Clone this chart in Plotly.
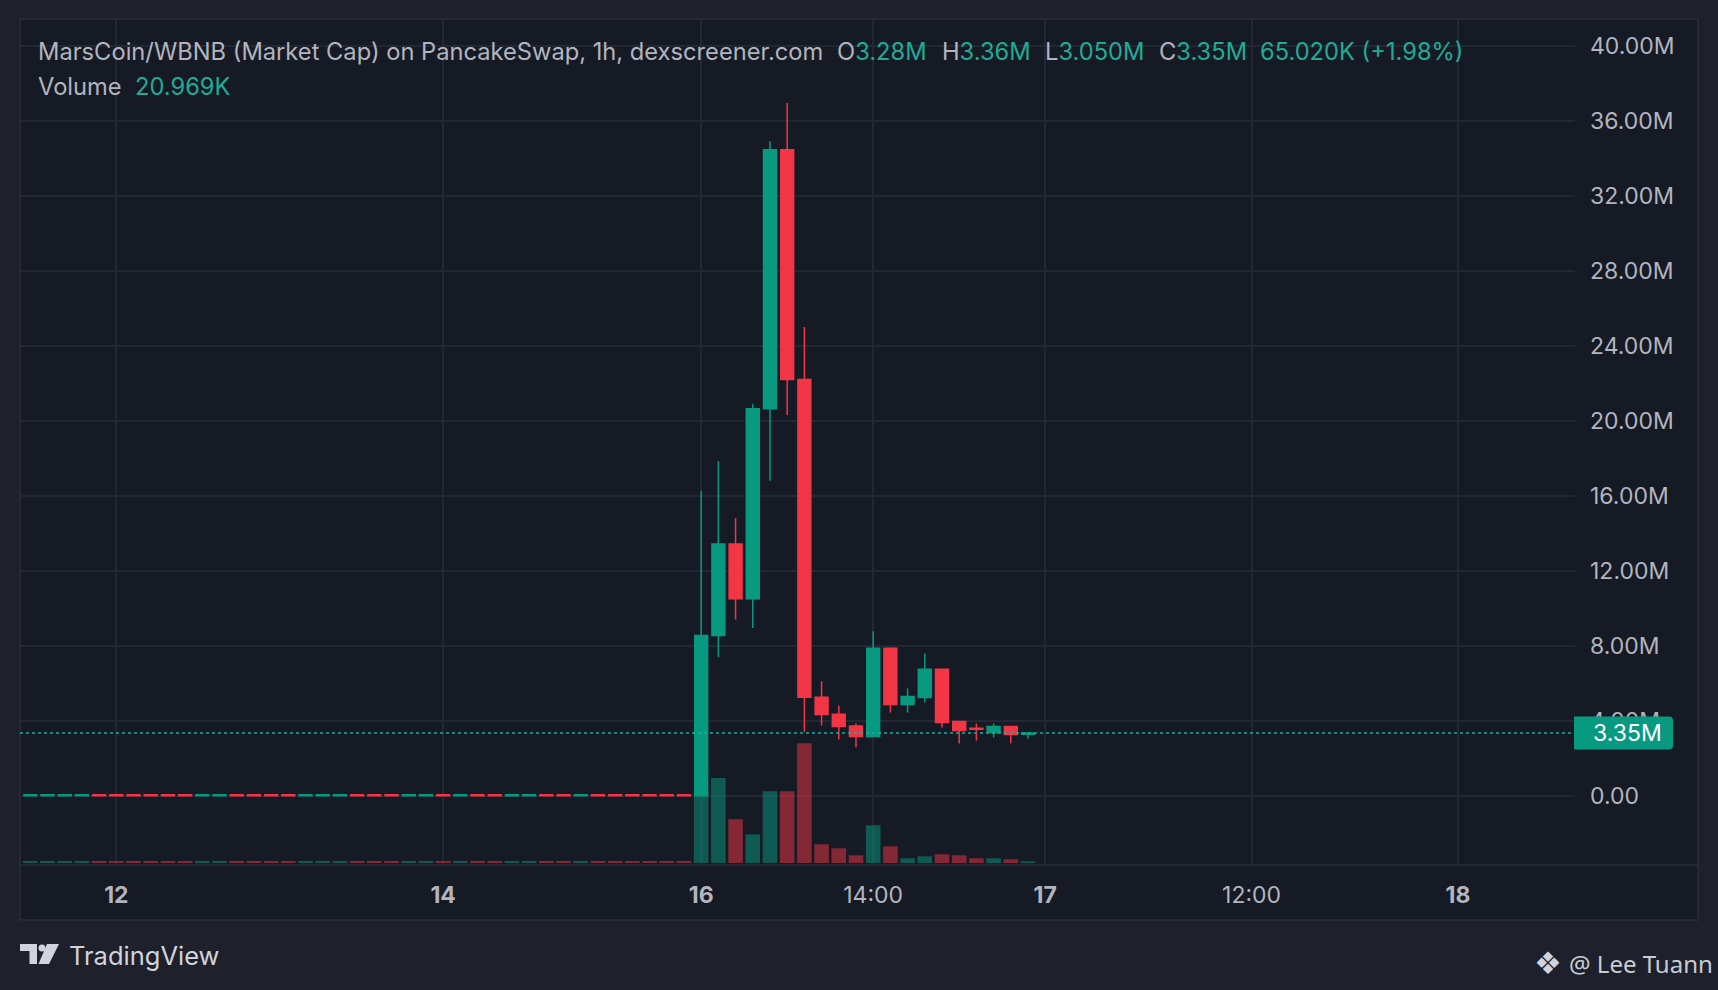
import plotly.graph_objects as go

# ---------------- data ----------------
# bar index (hourly bars, index 0 = first bar of the 16th)
bar_index = list(range(-39, 20))

# flat bars before the 16th (market cap ~0), values in millions
flat_open = [0, 0, 0, 0, 0.05, 0.05, 0.05, 0.05, 0.05, 0.05, 0, 0, 0.05, 0.05, 0.05, 0.05,
             0, 0, 0, 0.05, 0.05, 0.05, 0, 0, 0.05, 0, 0.05, 0.05, 0, 0, 0.05, 0.05, 0,
             0.05, 0.05, 0.05, 0.05, 0.05, 0.05]
flat_close = [0.05, 0.05, 0.05, 0.05, 0, 0, 0, 0, 0, 0, 0.05, 0.05, 0, 0, 0, 0,
              0.05, 0.05, 0.05, 0, 0, 0, 0.05, 0.05, 0, 0.05, 0, 0, 0.05, 0.05, 0, 0, 0.05,
              0, 0, 0, 0, 0, 0]
flat_volume_k = [25, 25, 25, 25, 25, 25, 25, 25, 25, 25, 25, 25, 25, 25, 25, 25, 25, 25, 25, 25,
                 25, 25, 25, 25, 25, 25, 25, 25, 25, 25, 25, 25, 25, 25, 25, 25, 25, 25, 25]

# active bars (millions)
live_open = [0.0, 8.55, 13.42, 10.5, 20.64, 34.45, 22.2, 5.25, 4.35, 3.72,
             3.16, 7.86, 4.87, 5.24, 6.74, 3.96, 3.6, 3.37, 3.69, 3.28]
live_high = [16.25, 17.85, 14.8, 20.9, 34.9, 36.95, 25.0, 6.1, 4.8, 3.85,
             8.77, 7.92, 5.72, 7.59, 6.76, 3.98, 3.85, 3.85, 3.72, 3.36]
live_low = [0.0, 7.4, 9.4, 8.95, 16.8, 20.3, 3.4, 3.75, 3.0, 2.58,
            3.16, 4.44, 4.44, 4.97, 3.64, 2.78, 2.94, 3.1, 2.78, 3.05]
live_close = [8.55, 13.42, 10.5, 20.64, 34.45, 22.2, 5.25, 4.33, 3.69, 3.16,
              7.86, 4.87, 5.29, 6.74, 3.9, 3.48, 3.55, 3.69, 3.26, 3.35]
live_volume_k = [900, 1046, 538, 353, 882, 882, 1472, 230, 181, 95,
                 464, 205, 58, 82, 107, 95, 58, 58, 46, 20.969]

opens = flat_open + live_open
closes = flat_close + live_close
highs = [max(o, c) for o, c in zip(flat_open, flat_close)] + live_high
lows = [min(o, c) for o, c in zip(flat_open, flat_close)] + live_low
volumes_k = flat_volume_k + live_volume_k

price_ticks = [0, 4, 8, 12, 16, 20, 24, 28, 32, 36, 40]
price_tick_text = ["0.00", "4.00M", "8.00M", "12.00M", "16.00M", "20.00M",
                   "24.00M", "28.00M", "32.00M", "36.00M", "40.00M"]
time_ticks = [-34, -15, 0, 10, 20, 32, 44]
time_tick_text = ["<b>12</b>", "<b>14</b>", "<b>16</b>", "14:00", "<b>17</b>", "12:00", "<b>18</b>"]

title_text = "MarsCoin/WBNB (Market Cap) on PancakeSwap, 1h, dexscreener.com"
ohlc_labels = ["O", "H", "L", "C"]
ohlc_values = ["3.28M", "3.36M", "3.050M", "3.35M"]
change_text = "65.020K (+1.98%)"
volume_label = "Volume"
volume_value = "20.969K"

# ---------------- style ----------------
W, H = 1718, 990
PL, PR, PT, PB = 20, 1575, 20, 865          # plot area in pixels
PANEL_R, PANEL_B = 1698, 920
PX_PER_M = 18.75
ZERO_Y = 795.7
VOL_K_PER_PX = 12.3

GREEN = "#089981"
RED = "#f23645"
GREEN_V = "rgba(8,153,129,0.5)"
RED_V = "rgba(242,54,69,0.5)"
TEXT = "#b2b5be"
TEAL_TXT = "#22ab94"
GRID = "#232733"
BORDER = "#2a2e39"
OUTER = "#1e212b"
INNER = "#161a25"
FONT = "Inter"


def fx(px):
    return (px - PL) / (PR - PL)


def fy(py):
    return (PB - py) / (PB - PT)


y2_top = (ZERO_Y - PT) / PX_PER_M
y2_bot = (ZERO_Y - PB) / PX_PER_M

vol_colors = [GREEN_V if c >= o else RED_V for o, c in zip(opens, closes)]

fig = go.Figure()
fig.add_trace(go.Bar(
    x=bar_index, y=volumes_k, marker=dict(color=vol_colors, line=dict(width=0)),
    yaxis="y", xaxis="x", showlegend=False, hoverinfo="skip"))
fig.add_trace(go.Candlestick(
    x=bar_index, open=opens, high=highs, low=lows, close=closes,
    yaxis="y2", xaxis="x", showlegend=False, whiskerwidth=0,
    increasing=dict(line=dict(color=GREEN, width=1.5), fillcolor=GREEN),
    decreasing=dict(line=dict(color=RED, width=1.5), fillcolor=RED)))

shapes = [
    dict(type="rect", xref="paper", yref="paper", x0=fx(PL), x1=fx(PANEL_R),
         y0=fy(PANEL_B), y1=fy(19), fillcolor=INNER, line=dict(color=BORDER, width=1.5),
         layer="below"),
    dict(type="line", xref="paper", yref="paper", x0=fx(PL), x1=fx(PANEL_R),
         y0=fy(PB), y1=fy(PB), line=dict(color=BORDER, width=1.5), layer="above"),
    # last price dotted line
    dict(type="line", xref="paper", yref="y2", x0=0, x1=1, y0=closes[-1], y1=closes[-1],
         line=dict(color=TEAL_TXT, width=1.5, dash="dot"), layer="above"),
    # last price label box
    dict(type="path", xref="paper", yref="y2", xsizemode="pixel", ysizemode="pixel",
         xanchor=1, yanchor=closes[-1],
         path="M -1,-16.5 L 94,-16.5 Q 98,-16.5 98,-12.5 L 98,12.5 Q 98,16.5 94,16.5 L -1,16.5 Z",
         fillcolor=GREEN, line=dict(width=0), layer="above"),
    # TradingView logo
    dict(type="rect", xref="paper", yref="paper", x0=fx(20), x1=fx(37), y0=fy(951), y1=fy(944),
         fillcolor="#d1d4dc", line=dict(width=0), layer="above"),
    dict(type="rect", xref="paper", yref="paper", x0=fx(29.5), x1=fx(37), y0=fy(964), y1=fy(944),
         fillcolor="#d1d4dc", line=dict(width=0), layer="above"),
    dict(type="circle", xref="paper", yref="paper", x0=fx(38.5), x1=fx(45.5), y0=fy(951.5), y1=fy(944.5),
         fillcolor="#d1d4dc", line=dict(width=0), layer="above"),
    dict(type="path", xref="paper", yref="paper",
         path=f"M {fx(47)},{fy(944)} L {fx(59)},{fy(944)} L {fx(49)},{fy(964)} L {fx(38.5)},{fy(964)} Z",
         fillcolor="#d1d4dc", line=dict(width=0), layer="above"),
]

ann = []


def add_text(px, py, text, size=23.7, color=TEXT, family=FONT, xanchor="left"):
    ann.append(dict(xref="paper", yref="paper", x=fx(px), y=fy(py), text=text,
                    showarrow=False, xanchor=xanchor, yanchor="middle",
                    font=dict(family=family, size=size, color=color)))


add_text(36, 52, title_text)
for lbl, val, px in zip(ohlc_labels, ohlc_values, [835, 940, 1043, 1157]):
    add_text(px, 52, f"{lbl}<span style='color:{TEAL_TXT}'>{val}</span>")
add_text(1258, 52, change_text, color=TEAL_TXT)
add_text(36, 86, volume_label)
add_text(133, 86, volume_value, color=TEAL_TXT)
add_text(67, 955, "TradingView", size=25.5, color="#d1d4dc")
add_text(1548, 963, "❖", size=31, color="#d1d4dc", family="DejaVu Sans", xanchor="center")
add_text(1567, 963, "@ Lee Tuann", size=24, color="#c8ccd4", family="Noto Sans")

ann.append(dict(xref="paper", yref="y2", x=1, y=closes[-1], xshift=16,
                text=f"{closes[-1]:.2f}M", showarrow=False, xanchor="left", yanchor="middle",
                font=dict(family=FONT, size=23, color="#ffffff")))

fig.update_layout(
    width=W, height=H,
    margin=dict(l=PL, r=W - PR, t=PT, b=H - PB, pad=0),
    paper_bgcolor=OUTER, plot_bgcolor=INNER,
    font=dict(family=FONT, color=TEXT, size=23),
    showlegend=False, bargap=0.15, boxgap=0.25, boxgroupgap=0,
    xaxis=dict(range=[-39.6, 50.8], tickvals=time_ticks, ticktext=time_tick_text,
               showgrid=True, gridcolor=GRID, gridwidth=1.5, zeroline=False, showline=False,
               ticks="", ticklabelstandoff=14, tickfont=dict(size=23, color=TEXT),
               rangeslider=dict(visible=False), fixedrange=True),
    yaxis=dict(range=[-2 * VOL_K_PER_PX, (PB - PT - 2) * VOL_K_PER_PX],
               showgrid=False, showticklabels=False, zeroline=False, fixedrange=True),
    yaxis2=dict(range=[y2_bot, y2_top], overlaying="y", side="right",
                tickvals=price_ticks, ticktext=price_tick_text,
                showgrid=True, gridcolor=GRID, gridwidth=1.5, zeroline=False, showline=False,
                ticks="", ticklabelstandoff=14, tickfont=dict(size=23, color=TEXT),
                fixedrange=True),
    shapes=shapes, annotations=ann,
)

fig.write_html("out.html", config={"displayModeBar": False},
               post_script="document.body.style.margin='0';document.body.style.overflow='hidden';")
